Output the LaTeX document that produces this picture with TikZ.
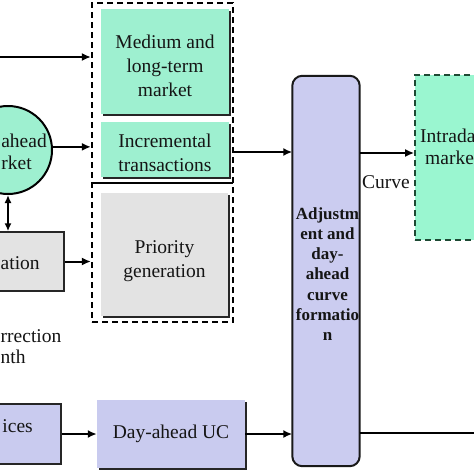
\documentclass[tikz,border=0pt]{standalone}
\usepackage{fontspec}
\setmainfont{Liberation Serif}
\usetikzlibrary{arrows.meta,shadows}
\definecolor{mint}{HTML}{9EF0D0}
\definecolor{mintb}{HTML}{9AF6D0}
\definecolor{lgray}{HTML}{E3E3E3}
\definecolor{lav}{HTML}{C9CBEF}
\definecolor{lavb}{HTML}{CBCCF0}
\definecolor{dgreen}{HTML}{1E4A34}
\definecolor{ink}{HTML}{151515}
\begin{document}
\begin{tikzpicture}[x=1pt,y=-1pt,
  txt/.style={font=\fontsize{19.5}{24}\selectfont, text=ink, inner sep=0pt},
  btxt/.style={font=\bfseries\fontsize{17}{20.3}\selectfont, text=ink, inner sep=0pt, align=center},
  shbox/.style={rectangle, draw=none, inner sep=0pt, drop shadow={shadow xshift=1.6pt, shadow yshift=-1.6pt, fill=black!85, opacity=1}},
  plainbox/.style={rectangle, draw=black!85, line width=1.5pt, inner sep=0pt},
  arr/.style={-{Latex[length=9pt,width=8pt]}, line width=2pt, draw=black},
  dbox/.style={draw=black, line width=2.2pt, dash pattern=on 6pt off 4pt, inner sep=0pt}
]
\clip (0,0) rectangle (474,474);
\fill[white] (0,0) rectangle (474,474);

% dashed group
\node[dbox, minimum width=141pt, minimum height=319pt] (group) at (162.5,162.5) {};
\coordinate (divL) at (92,183);
\coordinate (divR) at (233,183);
\draw[line width=2pt] (divL) -- (divR);

% inner boxes
\node[shbox, fill=mint, minimum width=128pt, minimum height=105pt] (medium) at (165,61.5) {};
\node[txt, align=center] (mediumtxt) at (165,66) {Medium and\\long-term\\market};
\node[shbox, fill=mint, minimum width=128pt, minimum height=55pt] (incr) at (165,149.5) {};
\node[txt, align=center] (incrtxt) at (165,152.4) {Incremental\\transactions};
\node[shbox, fill=lgray, minimum width=127pt, minimum height=123pt] (prio) at (164.5,254.5) {};
\node[txt, align=center] (priotxt) at (164.5,261.5) {Priority\\generation};

% left side
\node[circle, draw=black, line width=2pt, fill=mint, minimum size=88pt, inner sep=0pt] (dam) at (8,150) {};
\node[txt, anchor=base east] (damA) at (47,147) {ahead};
\node[txt, anchor=base east] (damB) at (32,169) {rket};

\node[plainbox, fill=lgray, minimum width=76pt, minimum height=59pt] (ation) at (26,261.5) {};
\node[txt, anchor=base west] (ationtxt) at (0.5,269) {ation};

\node[txt, anchor=base west] (corrA) at (0.5,342) {rrection};
\node[txt, anchor=base west] (corrB) at (0.5,363) {nth};

\node[plainbox, fill=lav, minimum width=73pt, minimum height=60pt] (ices) at (24.5,434) {};
\node[txt, anchor=base east] (icestxt) at (33,432) {ices};

\node[shbox, fill=lav, minimum width=148pt, minimum height=68pt, txt] (dauc) at (171,434) {Day-ahead UC};

% adjustment box
\node[rectangle, rounded corners=10pt, fill=lavb, minimum width=67pt, minimum height=390pt, inner sep=0pt] (adj) at (326,271) {};
\begin{scope}
\clip[rounded corners=10pt] (adj.north west) rectangle (adj.south east);
\node[btxt] (adjtxt) at (327.5,274) {Adjustm\\ent and\\day-\\ahead\\curve\\formatio\\n};
\end{scope}
\draw[draw=black!90, line width=2pt, rounded corners=10pt] (adj.north west) rectangle (adj.south east);

% intraday box
\node[rectangle, fill=mintb, draw=dgreen, line width=1.6pt, dash pattern=on 6pt off 4pt, minimum width=80pt, minimum height=165pt, inner sep=0pt] (intra) at (455,157.5) {};
\node[txt, anchor=base west] (intraA) at (420,142) {Intrada};
\node[txt, anchor=base west] (intraB) at (425,164) {marke};

% connectors
\coordinate (in1) at (-5,57);
\draw[arr] (in1) -- (in1 -| group.west);
\draw[arr] (dam.4) -- (dam.4 -| group.west);
\draw[arr] (ation.east) -- (ation.east -| group.west);
\draw[{Latex[length=8pt,width=7pt]}-{Latex[length=8pt,width=7pt]}, line width=2pt] (dam.south) -- (dam.south |- ation.north);
\draw[arr] (ices.east) -- (dauc.west);
\draw[arr] (dauc.east) -- (dauc.east -| adj.west);
\coordinate (a6) at (233,152);
\draw[arr] (a6) -- (a6 -| adj.west);
\coordinate (a7) at (360,153);
\draw[arr] (a7) -- (a7 -| intra.west);
\node[txt, anchor=base west] (curve) at (362,188) {Curve};
\coordinate (out1) at (480,433);
\draw[line width=2pt] (out1 -| adj.east) -- (out1);
\end{tikzpicture}
\end{document}
